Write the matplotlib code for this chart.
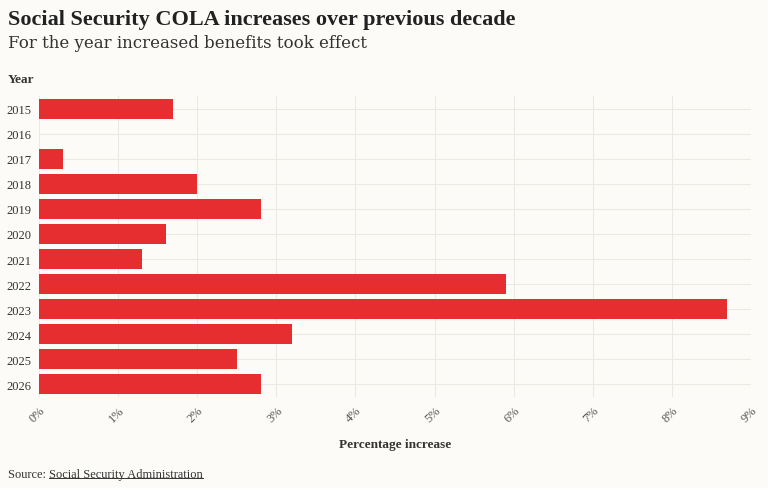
import matplotlib.pyplot as plt
from matplotlib.lines import Line2D
from matplotlib.ticker import FuncFormatter

years = ['2015', '2016', '2017', '2018', '2019', '2020',
         '2021', '2022', '2023', '2024', '2025', '2026']
cola = [1.7, 0.0, 0.3, 2.0, 2.8, 1.6, 1.3, 5.9, 8.7, 3.2, 2.5, 2.8]
x_ticks = [0, 1, 2, 3, 4, 5, 6, 7, 8, 9]

BG = '#fcfbf7'
RED = '#e62e30'
SMALL = ['Liberation Serif']

plt.rcParams['font.family'] = ['DejaVu Serif']

fig = plt.figure(figsize=(7.68, 4.89), dpi=100, facecolor=BG)
ax = fig.add_axes([39 / 768, 1 - 398 / 489, 712 / 768, 301 / 489], facecolor=BG)

ax.barh(range(len(years)), cola, height=0.8, color=RED, zorder=3)
ax.set_ylim(len(years) - 0.5, -0.5)
ax.set_xlim(0, 9)
ax.set_yticks(range(len(years)))
ax.set_yticklabels(years, fontsize=9, color='#333333', family=SMALL)
ax.set_xticks(x_ticks)
ax.xaxis.set_major_formatter(FuncFormatter(lambda v, p: f'{v:.0f}%'))
for lbl in ax.get_xticklabels():
    lbl.set_rotation(45)
    lbl.set_ha('right')
    lbl.set_va('top')
    lbl.set_rotation_mode('anchor')
    lbl.set_fontsize(9)
    lbl.set_family(SMALL)
    lbl.set_color('#555555')
ax.tick_params(axis='y', length=0, pad=5.5)
ax.tick_params(axis='x', length=0, pad=5)
ax.grid(True, color='#ebe9e4', linewidth=0.8, zorder=0)
for s in ax.spines.values():
    s.set_visible(False)

ax.set_xlabel('Percentage increase', fontsize=9.5, fontweight='bold',
              color='#333333', labelpad=10, family=SMALL)

fig.text(8 / 768, 1 - 20 / 489, 'Social Security COLA increases over previous decade',
         fontsize=16, fontweight='bold', color='#222222', va='center', ha='left',
         family=['Liberation Serif'])
fig.text(8 / 768, 1 - 43 / 489, 'For the year increased benefits took effect',
         fontsize=12, color='#333333', va='center', ha='left')
fig.text(8 / 768, 1 - 80 / 489, 'Year', fontsize=9.5, fontweight='bold',
         color='#333333', va='center', ha='left', family=SMALL)

src = fig.text(8 / 768, 1 - 475 / 489, 'Source: ', fontsize=8.9, color='#333333',
               va='center', ha='left', family=SMALL)
fig.canvas.draw()
bb = src.get_window_extent().transformed(fig.transFigure.inverted())
link = fig.text(bb.x1, 1 - 475 / 489, 'Social Security Administration', fontsize=8.9,
                color='#333333', va='center', ha='left', family=SMALL)
fig.canvas.draw()
lb = link.get_window_extent().transformed(fig.transFigure.inverted())
fig.add_artist(Line2D([lb.x0, lb.x1], [lb.y0 + 0.004, lb.y0 + 0.004],
                      transform=fig.transFigure, color='#333333', linewidth=0.7))

fig.savefig('out.png', dpi=100, facecolor=BG)
